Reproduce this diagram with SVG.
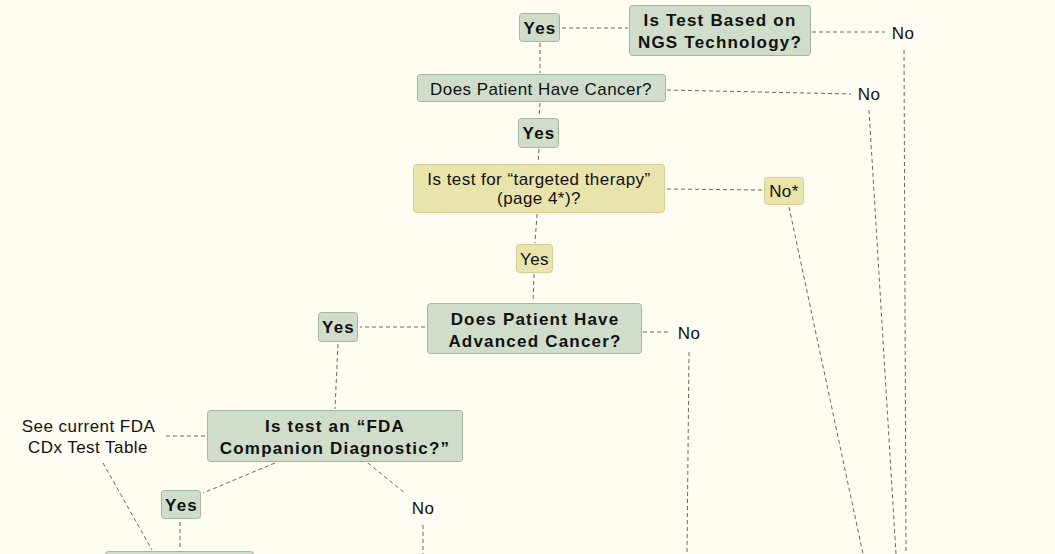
<svg xmlns="http://www.w3.org/2000/svg" width="1055" height="554" viewBox="0 0 1055 554">
<style>
.g{fill:#CFDDCA;stroke:#A2B79E;stroke-width:1}
.y{fill:#E9E3AC;stroke:#D4CC94;stroke-width:1}
.t{font-family:"Liberation Sans",Arial,sans-serif;font-size:17px;fill:#111;text-anchor:middle;letter-spacing:0.45px}
.b{font-weight:bold;letter-spacing:1.2px}
.c line{stroke:#666;stroke-width:1;stroke-dasharray:4 3;fill:none}
</style>
<rect width="1055" height="554" fill="#FFFDF2"/>
<g class="c" id="connectors">
<line x1="562" y1="28" x2="628" y2="28"/>
<line x1="812" y1="32" x2="885" y2="32"/>
<line x1="904" y1="50" x2="906" y2="554"/>
<line x1="540" y1="43" x2="540" y2="73"/>
<line x1="667" y1="90" x2="851" y2="94"/>
<line x1="869" y1="110" x2="896" y2="554"/>
<line x1="540" y1="103" x2="539" y2="117"/>
<line x1="539" y1="149" x2="538" y2="163"/>
<line x1="667" y1="189" x2="762" y2="190"/>
<line x1="789" y1="207" x2="863" y2="554"/>
<line x1="537" y1="214" x2="535" y2="243"/>
<line x1="534" y1="274" x2="533" y2="302"/>
<line x1="425" y1="327" x2="360" y2="327"/>
<line x1="643" y1="332" x2="671" y2="332"/>
<line x1="689" y1="352" x2="687" y2="554"/>
<line x1="338" y1="344" x2="335" y2="409"/>
<line x1="205" y1="436" x2="165" y2="436"/>
<line x1="103" y1="463" x2="152" y2="550"/>
<line x1="275" y1="463" x2="203" y2="493"/>
<line x1="180" y1="522" x2="180" y2="550"/>
<line x1="368" y1="463" x2="406" y2="494"/>
<line x1="423" y1="525" x2="423" y2="554"/>
</g>
<g id="ngs">
<rect class="g" x="629.5" y="5.5" width="181" height="50" rx="3"/>
<text class="t b" x="720" y="26">Is Test Based on</text>
<text class="t b" x="720" y="48">NGS Technology?</text>
</g>
<g id="yes1">
<rect class="g" x="519.5" y="13.5" width="40" height="28" rx="3"/>
<text class="t b" x="540" y="34">Yes</text>
</g>
<g id="no1"><text class="t" x="903" y="38.5">No</text></g>
<g id="cancer">
<rect class="g" x="417.5" y="74.5" width="248" height="27" rx="3"/>
<text class="t" x="541" y="94.5">Does Patient Have Cancer?</text>
</g>
<g id="no2"><text class="t" x="869" y="100">No</text></g>
<g id="yes2">
<rect class="g" x="518.5" y="118.5" width="40" height="29" rx="3"/>
<text class="t b" x="539" y="139">Yes</text>
</g>
<g id="targeted">
<rect class="y" x="413.5" y="164.5" width="251" height="48" rx="3"/>
<text class="t" x="539" y="184.5">Is test for “targeted therapy”</text>
<text class="t" x="539" y="203.5">(page 4*)?</text>
</g>
<g id="nostar">
<rect class="y" x="764.5" y="177.5" width="39" height="27" rx="3"/>
<text class="t" x="784" y="196.5">No*</text>
</g>
<g id="yes3">
<rect class="y" x="516.5" y="244.5" width="36" height="28" rx="3"/>
<text class="t" x="534.5" y="264.5">Yes</text>
</g>
<g id="advanced">
<rect class="g" x="427.5" y="303.5" width="214" height="50" rx="3"/>
<text class="t b" x="535" y="324.5">Does Patient Have</text>
<text class="t b" x="535" y="346.5">Advanced Cancer?</text>
</g>
<g id="yes4">
<rect class="g" x="318.5" y="312.5" width="39" height="29" rx="3"/>
<text class="t b" x="338.5" y="333">Yes</text>
</g>
<g id="no3"><text class="t" x="689" y="339">No</text></g>
<g id="fda">
<rect class="g" x="207.5" y="410.5" width="255" height="51" rx="3"/>
<text class="t b" x="335" y="431.5">Is test an “FDA</text>
<text class="t b" x="335" y="454">Companion Diagnostic?”</text>
</g>
<g id="seefda">
<text class="t" x="88.5" y="431.5">See current FDA</text>
<text class="t" x="88" y="452.5">CDx Test Table</text>
</g>
<g id="yes5">
<rect class="g" x="161.5" y="490.5" width="39" height="28" rx="3"/>
<text class="t b" x="181.5" y="511">Yes</text>
</g>
<g id="no4"><text class="t" x="423" y="514">No</text></g>
<g id="bottom">
<rect class="g" x="105.5" y="551.5" width="148" height="40" rx="3"/>
</g>
</svg>
